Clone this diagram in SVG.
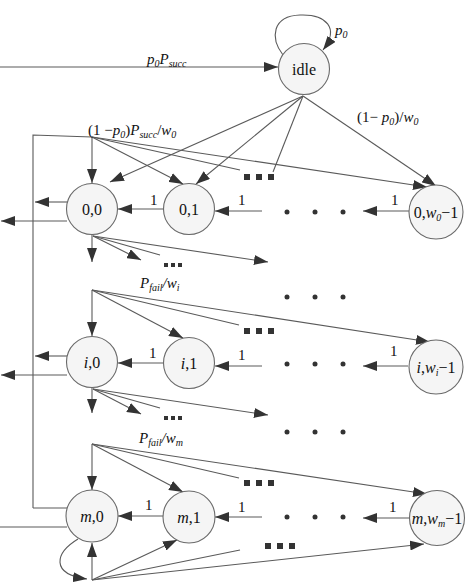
<svg xmlns="http://www.w3.org/2000/svg" width="474" height="582" viewBox="0 0 474 582">
<style>
.ln{stroke:#5a5a5a;stroke-width:1.1;fill:none}
.ar{stroke:#5a5a5a;stroke-width:1.1;fill:none;marker-end:url(#ah)}
.nd{fill:#f5f5f5;stroke:#6a6a6a;stroke-width:1.1}
.t{font-family:"Liberation Serif",serif;font-size:16px;fill:#111;text-anchor:middle}
.lb{font-family:"Liberation Serif",serif;font-size:15px;fill:#111}
.it{font-style:italic}
.sub{font-size:10px}
.dot{fill:#333}
</style>
<defs>
<marker id="ah" markerUnits="userSpaceOnUse" markerWidth="14" markerHeight="10" refX="14" refY="5" orient="auto">
<path d="M0,0 L14,5 L0,10 z" fill="#333"/>
</marker>
</defs>
<g id="connectors">
<!-- idle -->
<path class="ar" d="M283,55 C270,38 272,16 300,15 C326,14 340,28 323,50"/>
<line class="ar" x1="0" y1="67" x2="278" y2="67"/>
<line class="ar" x1="303" y1="96" x2="110" y2="182"/>
<line class="ar" x1="303" y1="96" x2="196" y2="184"/>
<line class="ln" x1="303" y1="96" x2="273" y2="172"/>
<line class="ar" x1="303" y1="96" x2="436" y2="186"/>
<!-- row 0 fan -->
<polyline class="ln" points="33,508 33,135 92,137"/>
<line class="ar" x1="92" y1="137" x2="92" y2="183"/>
<line class="ar" x1="92" y1="137" x2="183" y2="184"/>
<line class="ln" x1="92" y1="137" x2="240" y2="170"/>
<line class="ar" x1="92" y1="137" x2="427" y2="187"/>
<!-- row 0 -->
<line class="ar" x1="164" y1="209" x2="118" y2="209"/>
<line class="ar" x1="262" y1="211" x2="215" y2="211"/>
<line class="ar" x1="409" y1="211" x2="363" y2="211"/>
<line class="ar" x1="67" y1="202" x2="35" y2="202"/>
<line class="ar" x1="67" y1="221" x2="1" y2="221"/>
<line class="ar" x1="92" y1="235" x2="92" y2="262"/>
<line class="ar" x1="93" y1="236" x2="141" y2="260"/>
<line class="ln" x1="93" y1="236" x2="160" y2="255"/>
<line class="ar" x1="93" y1="236" x2="268" y2="262"/>
<!-- row i fan -->
<line class="ar" x1="92" y1="290" x2="92" y2="336"/>
<line class="ar" x1="92" y1="290" x2="183" y2="338"/>
<line class="ln" x1="92" y1="290" x2="239" y2="325"/>
<line class="ar" x1="92" y1="290" x2="430" y2="342"/>
<!-- row i -->
<line class="ar" x1="163" y1="363" x2="118" y2="363"/>
<line class="ar" x1="262" y1="366" x2="215" y2="366"/>
<line class="ar" x1="408" y1="366" x2="363" y2="366"/>
<line class="ar" x1="67" y1="356" x2="35" y2="356"/>
<line class="ar" x1="67" y1="375" x2="1" y2="375"/>
<line class="ar" x1="92" y1="388" x2="92" y2="413"/>
<line class="ar" x1="93" y1="389" x2="141" y2="414"/>
<line class="ln" x1="93" y1="389" x2="160" y2="408"/>
<line class="ar" x1="93" y1="389" x2="268" y2="415"/>
<!-- row m fan -->
<line class="ar" x1="92" y1="444" x2="92" y2="490"/>
<line class="ar" x1="92" y1="444" x2="183" y2="492"/>
<line class="ln" x1="92" y1="444" x2="239" y2="478"/>
<line class="ar" x1="92" y1="444" x2="427" y2="494"/>
<!-- row m -->
<line class="ar" x1="164" y1="516" x2="118" y2="516"/>
<line class="ar" x1="262" y1="517" x2="215" y2="517"/>
<line class="ar" x1="409" y1="518" x2="363" y2="518"/>
<line class="ln" x1="67" y1="508" x2="33" y2="508"/>
<line class="ln" x1="67" y1="527" x2="0" y2="527"/>
<path class="ar" d="M78,539 C55,553 50,574 87,579"/>
<line class="ar" x1="92" y1="580" x2="92" y2="543"/>
<line class="ar" x1="92" y1="580" x2="177" y2="540"/>
<line class="ln" x1="92" y1="580" x2="240" y2="550"/>
<line class="ar" x1="92" y1="580" x2="424" y2="544"/>
</g>
<g id="labels">
<text class="lb it" x="335" y="35">p<tspan class="sub" dy="3">0</tspan></text>
<text class="lb it" x="147" y="64">p<tspan class="sub" dy="3">0</tspan><tspan dy="-3">P</tspan><tspan class="sub" dy="3">succ</tspan></text>
<text class="lb" x="357" y="122">(1− <tspan class="it">p</tspan><tspan class="sub it" dy="3">0</tspan><tspan dy="-3">)/</tspan><tspan class="it">w</tspan><tspan class="sub it" dy="3">0</tspan></text>
<text class="lb" x="88" y="135">(1 −<tspan class="it">p</tspan><tspan class="sub it" dy="3">0</tspan><tspan dy="-3">)</tspan><tspan class="it">P</tspan><tspan class="sub it" dy="3">succ</tspan><tspan dy="-3">/</tspan><tspan class="it">w</tspan><tspan class="sub it" dy="3">0</tspan></text>
<text class="lb it" x="140" y="288">P<tspan class="sub" dy="3">fail</tspan><tspan dy="-3">/w</tspan><tspan class="sub" dy="3">i</tspan></text>
<text class="lb it" x="139" y="443">P<tspan class="sub" dy="3">fail</tspan><tspan dy="-3">/w</tspan><tspan class="sub" dy="3">m</tspan></text>
<text class="lb" x="150" y="205">1</text>
<text class="lb" x="238" y="205">1</text>
<text class="lb" x="391" y="205">1</text>
<text class="lb" x="149" y="358">1</text>
<text class="lb" x="238" y="360">1</text>
<text class="lb" x="390" y="356">1</text>
<text class="lb" x="145" y="510">1</text>
<text class="lb" x="238" y="512">1</text>
<text class="lb" x="389" y="512">1</text>
</g>
<g id="dots">
<rect class="dot" x="244" y="174" width="6" height="6"/><rect class="dot" x="256" y="174" width="6" height="6"/><rect class="dot" x="268" y="174" width="6" height="6"/>
<rect class="dot" x="244" y="328" width="6" height="6"/><rect class="dot" x="256" y="328" width="6" height="6"/><rect class="dot" x="268" y="328" width="6" height="6"/>
<rect class="dot" x="244" y="480" width="6" height="6"/><rect class="dot" x="256" y="480" width="6" height="6"/><rect class="dot" x="268" y="480" width="6" height="6"/>
<rect class="dot" x="265" y="543" width="6" height="6"/><rect class="dot" x="277" y="543" width="6" height="6"/><rect class="dot" x="289" y="543" width="6" height="6"/>
<rect class="dot" x="164" y="263" width="4" height="4"/><rect class="dot" x="171" y="263" width="4" height="4"/><rect class="dot" x="178" y="263" width="4" height="4"/>
<rect class="dot" x="164" y="416" width="4" height="4"/><rect class="dot" x="171" y="416" width="4" height="4"/><rect class="dot" x="178" y="416" width="4" height="4"/>
<circle class="dot" cx="287" cy="212" r="2.5"/><circle class="dot" cx="315" cy="212" r="2.5"/><circle class="dot" cx="343" cy="212" r="2.5"/>
<circle class="dot" cx="287" cy="297" r="2.5"/><circle class="dot" cx="315" cy="297" r="2.5"/><circle class="dot" cx="343" cy="297" r="2.5"/>
<circle class="dot" cx="287" cy="364" r="2.5"/><circle class="dot" cx="315" cy="364" r="2.5"/><circle class="dot" cx="343" cy="364" r="2.5"/>
<circle class="dot" cx="287" cy="432" r="2.5"/><circle class="dot" cx="315" cy="432" r="2.5"/><circle class="dot" cx="343" cy="432" r="2.5"/>
<circle class="dot" cx="287" cy="517" r="2.5"/><circle class="dot" cx="315" cy="517" r="2.5"/><circle class="dot" cx="343" cy="517" r="2.5"/>
</g>
<g id="idle"><circle class="nd" cx="304" cy="69" r="25.5"/><text class="t" x="304" y="75">idle</text></g>
<g id="n00"><circle class="nd" cx="92" cy="209" r="25.5"/><text class="t" x="92" y="215">0,0</text></g>
<g id="n01"><circle class="nd" cx="189" cy="209" r="25.5"/><text class="t" x="189" y="215">0,1</text></g>
<g id="n0w"><circle class="nd" cx="436" cy="212" r="27"/><text class="t" x="436" y="218">0,<tspan class="it">w</tspan><tspan class="sub it" dy="3">0</tspan><tspan dy="-3">−1</tspan></text></g>
<g id="ni0"><circle class="nd" cx="92" cy="362" r="25.5"/><text class="t" x="92" y="368"><tspan class="it">i</tspan>,0</text></g>
<g id="ni1"><circle class="nd" cx="189" cy="363" r="25.5"/><text class="t" x="189" y="369"><tspan class="it">i</tspan>,1</text></g>
<g id="niw"><circle class="nd" cx="436" cy="367" r="27"/><text class="t" x="436" y="373"><tspan class="it">i</tspan>,<tspan class="it">w</tspan><tspan class="sub it" dy="3">i</tspan><tspan dy="-3">−1</tspan></text></g>
<g id="nm0"><circle class="nd" cx="92" cy="516" r="26"/><text class="t" x="92" y="522"><tspan class="it">m</tspan>,0</text></g>
<g id="nm1"><circle class="nd" cx="189" cy="517" r="26"/><text class="t" x="189" y="523"><tspan class="it">m</tspan>,1</text></g>
<g id="nmw"><circle class="nd" cx="437" cy="518" r="27.5"/><text class="t" x="437" y="524"><tspan class="it">m</tspan>,<tspan class="it">w</tspan><tspan class="sub it" dy="3">m</tspan><tspan dy="-3">−1</tspan></text></g>
</svg>
